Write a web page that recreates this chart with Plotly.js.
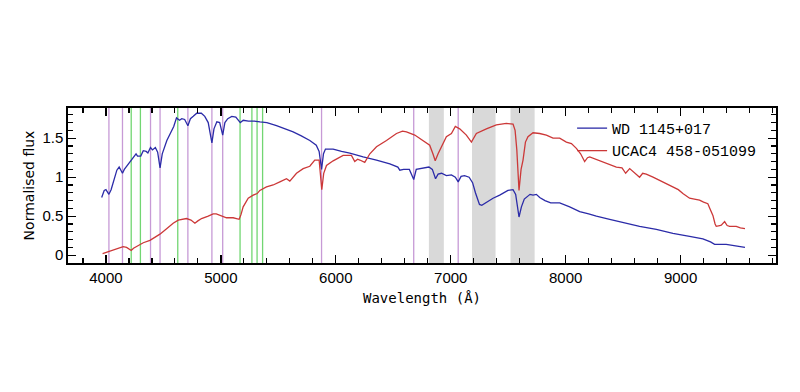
<!DOCTYPE html>
<html>
<head>
<meta charset="utf-8">
<script src="https://cdn.plot.ly/plotly-3.0.1.min.js"></script>
<style>html,body{margin:0;padding:0;background:#fff;}#chart{width:800px;height:392px;}</style>
</head>
<body>
<div id="chart"></div>
<script>
// WD 1145+017 spectrum (wavelength in Angstrom, normalised flux)
const wdWave = [3963,3985,4000,4026,4045,4070,4095,4115,4144,4160,4185,4217,4240,4262,4275,4303,4325,4350,4365,4388,4405,4430,4450,4471,4490,4510,4530,4560,4590,4614,4640,4660,4685,4713,4735,4760,4790,4830,4860,4890,4922,4940,4965,4990,5016,5035,5060,5095,5130,5169,5195,5240,5290,5340,5400,5484,5560,5629,5700,5774,5830,5855,5876,5893,5910,5977,6050,6122,6238,6354,6470,6540,6557,6590,6640,6678,6700,6760,6810,6840,6868,6890,6920,6962,7006,7040,7065,7090,7120,7160,7190,7215,7250,7270,7310,7368,7426,7498,7542,7565,7594,7615,7640,7690,7716,7745,7774,7820,7870,7948,8035,8122,8200,8267,8383,8528,8643,8789,8933,9078,9194,9260,9296,9397,9480,9560];
const wdFlux = [0.74,0.83,0.84,0.78,0.84,0.96,1.09,1.13,1.05,1.10,1.15,1.21,1.26,1.30,1.27,1.27,1.34,1.33,1.31,1.38,1.35,1.38,1.32,1.12,1.30,1.38,1.47,1.56,1.65,1.76,1.73,1.75,1.74,1.66,1.75,1.78,1.82,1.82,1.78,1.70,1.44,1.62,1.71,1.70,1.54,1.70,1.75,1.78,1.77,1.70,1.73,1.72,1.72,1.71,1.70,1.66,1.62,1.58,1.53,1.47,1.41,1.33,1.10,1.30,1.36,1.36,1.33,1.31,1.26,1.22,1.17,1.13,1.09,1.10,1.10,0.97,1.10,1.12,1.13,1.10,0.98,1.04,1.05,1.02,1.03,1.00,0.94,1.01,1.02,1.00,0.93,0.80,0.65,0.64,0.68,0.73,0.77,0.83,0.84,0.78,0.49,0.62,0.72,0.78,0.77,0.78,0.74,0.70,0.67,0.67,0.62,0.56,0.53,0.50,0.46,0.41,0.37,0.33,0.28,0.24,0.21,0.17,0.14,0.14,0.12,0.10];

// UCAC4 458-051099 spectrum
const ucWave = [3971,3990,4020,4050,4078,4110,4150,4180,4220,4240,4267,4300,4325,4383,4430,4470,4528,4585,4629,4701,4740,4774,4800,4832,4890,4933,4960,4991,5049,5107,5159,5175,5194,5238,5281,5316,5339,5397,5455,5513,5571,5600,5630,5658,5716,5774,5817,5855,5878,5895,5919,5977,6064,6136,6165,6190,6209,6252,6296,6354,6441,6528,6580,6615,6687,6759,6817,6845,6865,6890,6920,6962,7006,7040,7078,7136,7180,7200,7223,7310,7397,7484,7542,7560,7575,7594,7612,7629,7650,7672,7716,7774,7832,7890,7948,8006,8050,8093,8130,8165,8190,8209,8260,8325,8400,8441,8490,8522,8557,8600,8643,8670,8701,8760,8817,8870,8933,8980,9020,9050,9078,9120,9165,9200,9237,9260,9281,9300,9310,9340,9354,9383,9405,9426,9484,9520,9560];
const ucFlux = [0.02,0.03,0.04,0.06,0.07,0.09,0.11,0.10,0.06,0.09,0.11,0.14,0.16,0.19,0.23,0.27,0.34,0.41,0.45,0.47,0.45,0.41,0.44,0.47,0.50,0.53,0.53,0.51,0.48,0.48,0.46,0.52,0.62,0.73,0.77,0.79,0.83,0.875,0.90,0.94,0.98,0.95,1.00,1.05,1.11,1.14,1.22,1.22,0.84,1.05,1.15,1.21,1.28,1.28,1.20,1.23,1.22,1.19,1.30,1.39,1.47,1.56,1.59,1.58,1.54,1.47,1.41,1.30,1.21,1.30,1.40,1.52,1.56,1.65,1.62,1.54,1.45,1.50,1.56,1.62,1.67,1.69,1.68,1.60,1.35,0.83,1.10,1.22,1.45,1.52,1.57,1.56,1.54,1.50,1.50,1.45,1.43,1.37,1.30,1.20,1.25,1.26,1.23,1.20,1.15,1.13,1.12,1.05,1.11,1.06,1.00,1.05,1.04,1.00,0.96,0.92,0.875,0.84,0.79,0.76,0.73,0.72,0.705,0.68,0.66,0.58,0.51,0.40,0.37,0.38,0.385,0.43,0.38,0.37,0.37,0.35,0.34];

// Marked lines (Angstrom)
const heLines = [4026,4144,4388,4471,4713,4922,5016,5876,6678,7065];
const greenLines = [4220,4300,4625,5167,5270,5315,5363];
// Telluric bands [start, end]
const bandStart = [6810,7185,7520];
const bandEnd = [6940,7390,7730];

const seriesNames = ['WD 1145+017','UCAC4 458-051099'];

const shapes = [];
bandStart.forEach((s,i)=>shapes.push({type:'rect',xref:'x',yref:'paper',x0:s,x1:bandEnd[i],y0:0,y1:1,fillcolor:'#d9d9d9',line:{width:0},layer:'below'}));
heLines.forEach(w=>shapes.push({type:'line',xref:'x',yref:'paper',x0:w,x1:w,y0:0,y1:1,line:{color:'#c79ad6',width:1.3},layer:'below'}));
greenLines.forEach(w=>shapes.push({type:'line',xref:'x',yref:'paper',x0:w,x1:w,y0:0,y1:1,line:{color:'#72d672',width:1.3},layer:'below'}));

const traces = [
  {x:wdWave,y:wdFlux,type:'scatter',mode:'lines',name:seriesNames[0],line:{color:'#2b2ba8',width:1.3}},
  {x:ucWave,y:ucFlux,type:'scatter',mode:'lines',name:seriesNames[1],line:{color:'#cc3838',width:1.3}}
];

const axisCommon = {
  ticks:'inside', ticklen:8, tickwidth:1.3, tickcolor:'#000',
  showline:true, linecolor:'#000', linewidth:1.6, mirror:'allticks',
  showgrid:false, zeroline:false, exponentformat:'none', layer:'above traces',
  tickfont:{family:'Liberation Sans, Arial, sans-serif', size:15, color:'#000'}
};

const layout = {
  width:800, height:392,
  margin:{l:68, r:24, t:108, b:129},
  paper_bgcolor:'#fff', plot_bgcolor:'#fff',
  showlegend:true,
  legend:{x:0.712, y:0.975, xanchor:'left', yanchor:'top', bgcolor:'rgba(0,0,0,0)', itemwidth:30,
          font:{family:'Liberation Mono, monospace', size:15, color:'#000'}},
  xaxis:Object.assign({}, axisCommon, {
    range:[3670,9830], tickmode:'linear', tick0:4000, dtick:1000, tickformat:'d',
    minor:{dtick:200, tick0:0, ticks:'inside', ticklen:5, tickwidth:1.2, tickcolor:'#000', showgrid:false},
    title:{text:'Wavelength (Å)', font:{family:'DejaVu Sans Mono, monospace', size:14, color:'#000'}, standoff:8}
  }),
  yaxis:Object.assign({}, axisCommon, {
    range:[-0.1,1.887], tickmode:'linear', tick0:0, dtick:0.5,
    minor:{dtick:0.1, tick0:0, ticks:'inside', ticklen:5, tickwidth:1.2, tickcolor:'#000', showgrid:false},
    title:{text:'Normalised flux', font:{family:'DejaVu Sans, sans-serif', size:14, color:'#000'}, standoff:4}
  }),
  shapes:shapes
};

Plotly.newPlot('chart', traces, layout, {displayModeBar:false, staticPlot:true});
</script>
</body>
</html>
